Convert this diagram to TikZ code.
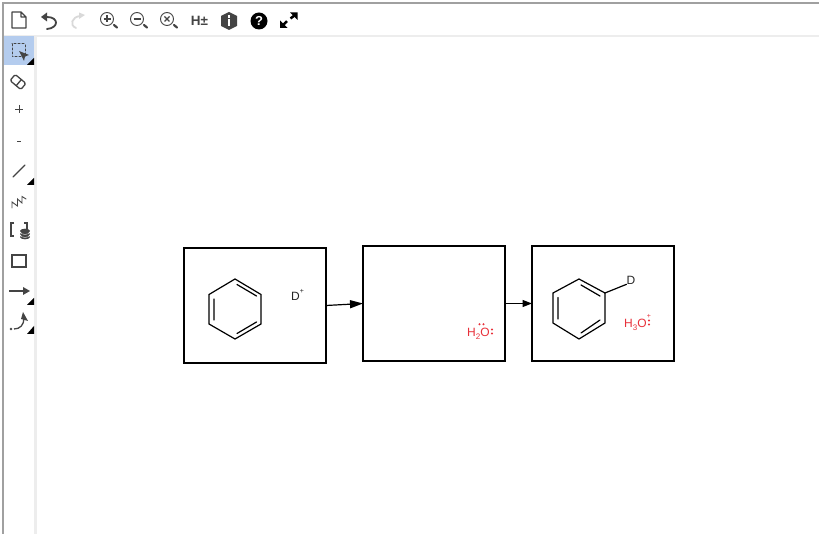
\documentclass[tikz,border=0pt]{standalone}
\usepackage{fontspec}
\setmainfont{Liberation Sans}
\usetikzlibrary{arrows.meta}
\definecolor{icon}{HTML}{444444}
\definecolor{frameg}{HTML}{A0A0A0}
\definecolor{barg}{HTML}{EDEDED}
\definecolor{sel}{HTML}{B4CCEE}
\definecolor{chemred}{HTML}{E8303A}
\tikzset{
  boxnode/.style={draw=black,line width=1.6pt,minimum width=142pt,minimum height=115pt,inner sep=0pt,outer sep=0pt,fill=white},
  rxn/.style={draw=black,line width=1.2pt,-{Triangle[length=13pt,width=8pt]}},
  rxnb/.style={draw=black,line width=1.2pt,-{Triangle[length=9.5pt,width=7pt]}},
  bond/.style={draw=black,line width=1.2pt,line join=miter,line cap=round},
  lab/.style={font=\fontsize{12}{12}\selectfont,text=black!85,inner sep=0pt},
  redlab/.style={font=\fontsize{12}{12}\selectfont,text=chemred,inner sep=0pt},
  ic/.style={draw=icon,line width=1.3pt,line cap=round,line join=round},
  corner/.style={fill=black,draw=none},
}
\begin{document}
\begin{tikzpicture}[x=1pt,y=-1pt]
\useasboundingbox (0,0) rectangle (819,534);
\fill[white] (0,0) rectangle (819,534);
% frame and bars
\fill[barg] (34,37) rectangle (37,534);
\fill[barg] (4,35.5) rectangle (819,37.5);
\fill[frameg] (2,2) rectangle (819,4);
\fill[frameg] (2,2) rectangle (4,534);
\fill[sel] (4,36) rectangle (34,65);
% top toolbar
\draw[ic,line width=1.3pt] (12,12) -- (21,12) -- (26,17) -- (26,28) -- (12,28) -- cycle (21,12) -- (21,17) -- (26,17);
\draw[ic,line width=1.8pt] (47,29) .. controls (59,28) and (59,17) .. (47,17) -- (44,17);
\fill[icon] (41,17) -- (47,12.5) -- (47,21.5) -- cycle;
\draw[draw=gray!30,line width=1.8pt,line cap=round] (76,28) .. controls (69,25) and (72,17) .. (80,16);
\fill[gray!30] (85,15) -- (79,12.5) -- (79,19) -- cycle;
\foreach \cx/\k in {107/p,137/m,167/x}{
  \draw[icon,line width=.9pt] (\cx,19) circle (6.5);
  \draw[icon,line width=2.2pt,line cap=round] (\cx+7,25) -- (\cx+10,27.5);
}
\draw[icon,line width=1.2pt] (103.5,19) -- (110.5,19) (107,15.5) -- (107,22.5);
\draw[icon,line width=1.2pt] (133.5,19) -- (140.5,19);
\draw[icon,line width=1.2pt] (164.5,16.5) -- (169.5,21.5) (169.5,16.5) -- (164.5,21.5);
\node[inner sep=0pt,text=icon] (hpm) at (199.5,21) {\fontsize{13.5}{13.5}\selectfont\bfseries H±};
\fill[icon] (229,12) -- (237,16) -- (237,26) -- (229,30) -- (221,26) -- (221,16) -- cycle;
\fill[white] (227.7,15.5) rectangle (230.3,18);
\fill[white] (227.7,19.5) rectangle (230.3,26);
\fill[black] (259,21) circle (8.5);
\node[inner sep=0pt,text=white] (qm) at (259,21) {\fontsize{13}{13}\selectfont\bfseries ?};
\fill[black] (280,28) -- (280,20.5) -- (287.5,28) -- cycle;
\fill[black] (297.5,12.5) -- (297.5,20) -- (290,12.5) -- cycle;
\draw[black,line width=2.5pt] (283,25) -- (287,21.2) (290.5,18.5) -- (294.5,15.5);
% left toolbar
\draw[ic,line width=1pt,dash pattern=on 2pt off 2pt] (12,44) rectangle (25,57);
\fill[icon] (19,51) -- (29,55) -- (25,56.5) -- (24,61) -- cycle;
\fill[corner] (34,58) -- (34,65) -- (27,65) -- cycle;
\begin{scope}[shift={(18,82)},rotate=-40]
  \draw[ic,line width=1.3pt,rounded corners=1.5pt] (-7,-4) rectangle (7,4);
  \draw[ic,line width=1.3pt] (1,-4) -- (1,4);
\end{scope}
\draw[icon,line width=.9pt] (15,109) -- (23,109) (19,105) -- (19,113);
\draw[icon,line width=.9pt] (17,141) -- (21,141);
\draw[ic,line width=1.2pt] (13,177) -- (25,165);
\fill[corner] (34,178) -- (34,185) -- (27,185) -- cycle;
\draw[ic,line width=.9pt,line join=miter] (12,208) -- (12,202) -- (17.5,206) -- (17.5,199) -- (22,203) -- (22,196.5) -- (26,199);
\draw[ic,line cap=butt,line join=miter,line width=1.4pt] (14,223) -- (11,223) -- (11,236) -- (14,236);
\draw[ic,line cap=butt,line join=miter,line width=1.4pt] (24,223) -- (27,223) -- (27,229);
\fill[icon] (25,231) ellipse (5 and 2.3);
\fill[icon] (25,234) ellipse (5 and 2.3);
\fill[icon] (25,237) ellipse (5 and 2.3);
\draw[white,line width=.4pt] (20,232.5) .. controls (22,235) and (28,235) .. (30,232.5);
\draw[white,line width=.4pt] (20,235.5) .. controls (22,238) and (28,238) .. (30,235.5);
\draw[icon,line width=1.5pt] (12,255) rectangle (26,267);
\draw[icon,line width=1.3pt] (9,291) -- (24,291);
\fill[icon] (30,291) -- (23,287) -- (23,295) -- cycle;
\fill[corner] (34,298) -- (34,305) -- (27,305) -- cycle;
\fill[icon] (11,329) circle (1.4);
\draw[icon,line width=1.3pt] (14,329) .. controls (20,329) and (24,325) .. (24,318);
\fill[icon] (23,312) -- (28,321) -- (21,319) -- cycle;
\fill[corner] (34,326) -- (34,334) -- (27,334) -- cycle;
% boxes
\node[boxnode] (b1) at (255,305.5) {};
\node[boxnode] (b2) at (434,303.5) {};
\node[boxnode] (b3) at (603,303.5) {};
% connectors
\draw[rxn] (b1.east) -- (b2.west);
\draw[rxnb] (b2.east) -- (b3.west);
% benzene 1
\draw[bond] (235,279) -- (261,294.5) -- (261,324) -- (235,339) -- (209,324) -- (209,294.5) -- cycle;
\draw[bond] (237,284.5) -- (256.5,296) (214,299) -- (214,320) (237,333.5) -- (256.5,322);
% benzene 2
\coordinate (ar) at (605,293);
\draw[bond] (579,279) -- (ar) -- (605,323) -- (579,339) -- (553,323) -- (553,293) -- cycle;
\draw[bond] (581,285) -- (600,296) (558,297.5) -- (558,319) (581,333) -- (600,320);
% labels
\node[lab] (dplus) at (295.5,296) {D};
\node[inner sep=0pt,text=black!85] (plus1) at (302,291) {\fontsize{7}{7}\selectfont +};
\node[lab] (d3) at (631,280) {D};
\draw[bond] (ar) -- (d3.south west);
\node[redlab,anchor=base west] (h2o) at (467,336.5) {H\raisebox{-3pt}{\fontsize{8}{8}\selectfont 2}O};
\fill[chemred] (479.5,324.2) circle (1.1) (483.5,324.2) circle (1.1) (492,329.5) circle (1.1) (492,333.5) circle (1.1);
\node[redlab,anchor=base west] (h3o) at (624,327.5) {H\raisebox{-3pt}{\fontsize{8}{8}\selectfont 3}O};
\fill[chemred] (649,320.5) circle (1.1) (649,324.5) circle (1.1);
\node[inner sep=0pt,text=chemred] (plus3) at (649,316.5) {\fontsize{7}{7}\selectfont +};
\end{tikzpicture}
\end{document}
